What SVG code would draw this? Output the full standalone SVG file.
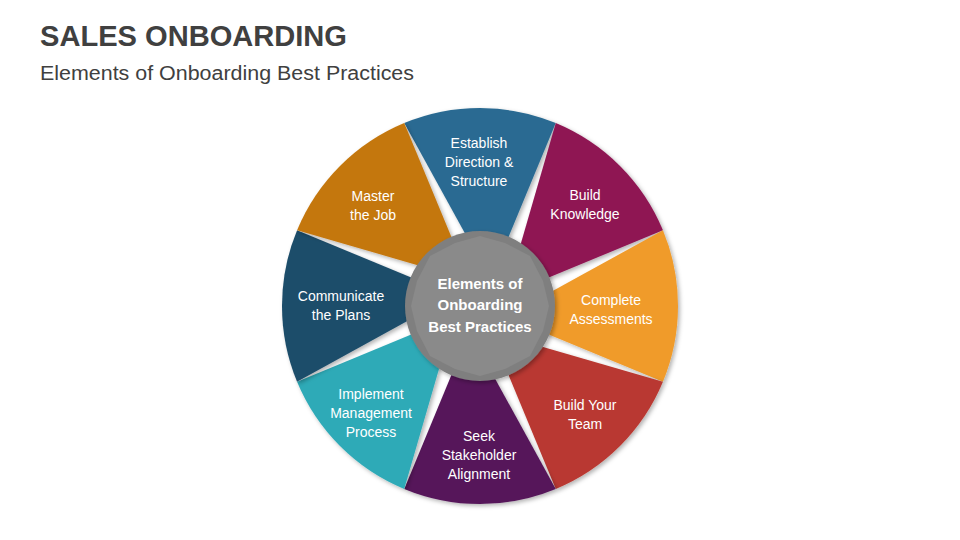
<svg xmlns="http://www.w3.org/2000/svg" width="960" height="540" viewBox="0 0 960 540">
<style>
.title{font-family:"Liberation Sans",Arial,sans-serif;font-weight:bold;font-size:29px;fill:#404040}
.sub{font-family:"Liberation Sans",Arial,sans-serif;font-size:20px;fill:#404040}
.lbl{font-family:"Liberation Sans",Arial,sans-serif;font-size:14px;fill:#ffffff;text-anchor:middle}
.ctr{font-family:"Liberation Sans",Arial,sans-serif;font-weight:bold;font-size:15px;fill:#ffffff;text-anchor:middle}
.seg{filter:url(#sh)}
</style>
<defs>
<filter id="sh" x="-20%" y="-20%" width="140%" height="140%">
<feDropShadow dx="2" dy="2" stdDeviation="2" flood-color="#000" flood-opacity="0.3"/>
</filter>
</defs>
<rect width="960" height="540" fill="#ffffff"/>
<text class="title" x="40" y="46" textLength="307" lengthAdjust="spacingAndGlyphs">SALES ONBOARDING</text>
<text class="sub" x="40" y="80" textLength="374" lengthAdjust="spacingAndGlyphs">Elements of Onboarding Best Practices</text>

<g id="establish">
<path class="seg" d="M404.23,123.07 A198,198 0 0 1 555.77,123.07 L490.71,280.13 Z" fill="#2A6B92"/>
<text class="lbl" x="479" y="148">Establish</text>
<text class="lbl" x="479" y="167">Direction &amp;</text>
<text class="lbl" x="479" y="186">Structure</text>
</g>
<g id="build-knowledge">
<path class="seg" d="M555.77,123.07 A198,198 0 0 1 662.93,230.23 L505.87,295.29 Z" fill="#8F1553"/>
<text class="lbl" x="585" y="200">Build</text>
<text class="lbl" x="585" y="219">Knowledge</text>
</g>
<g id="complete-assessments">
<path class="seg" d="M662.93,230.23 A198,198 0 0 1 662.93,381.77 L505.87,316.71 Z" fill="#F09B2B"/>
<text class="lbl" x="611" y="305">Complete</text>
<text class="lbl" x="611" y="324">Assessments</text>
</g>
<g id="build-team">
<path class="seg" d="M662.93,381.77 A198,198 0 0 1 555.77,488.93 L490.71,331.87 Z" fill="#B93830"/>
<text class="lbl" x="585" y="410">Build Your</text>
<text class="lbl" x="585" y="429">Team</text>
</g>
<g id="seek-alignment">
<path class="seg" d="M555.77,488.93 A198,198 0 0 1 404.23,488.93 L469.29,331.87 Z" fill="#56185A"/>
<text class="lbl" x="479" y="441">Seek</text>
<text class="lbl" x="479" y="460">Stakeholder</text>
<text class="lbl" x="479" y="479">Alignment</text>
</g>
<g id="implement-process">
<path class="seg" d="M404.23,488.93 A198,198 0 0 1 297.07,381.77 L454.13,316.71 Z" fill="#2FAAB7"/>
<text class="lbl" x="371" y="399">Implement</text>
<text class="lbl" x="371" y="418">Management</text>
<text class="lbl" x="371" y="437">Process</text>
</g>
<g id="communicate-plans">
<path class="seg" d="M297.07,381.77 A198,198 0 0 1 297.07,230.23 L454.13,295.29 Z" fill="#1F4E6B"/>
<text class="lbl" x="341" y="301">Communicate</text>
<text class="lbl" x="341" y="320">the Plans</text>
</g>
<g id="master-job">
<path class="seg" d="M297.07,230.23 A198,198 0 0 1 404.23,123.07 L469.29,280.13 Z" fill="#C4770E"/>
<text class="lbl" x="373" y="201">Master</text>
<text class="lbl" x="373" y="220">the Job</text>
</g>

<g id="center">
<circle class="seg" cx="480" cy="306" r="75" fill="#7F7F7F"/>
<polygon points="480,236 505,243 530,256 543,281 549,306 543,331 530,356 505,369 480,376 455,369 430,356 417,331 411,306 417,281 430,256 455,243" fill="#8A8A8A"/>
<text class="ctr" x="480" y="289">Elements of</text>
<text class="ctr" x="480" y="310">Onboarding</text>
<text class="ctr" x="480" y="332">Best Practices</text>
</g>
</svg>
